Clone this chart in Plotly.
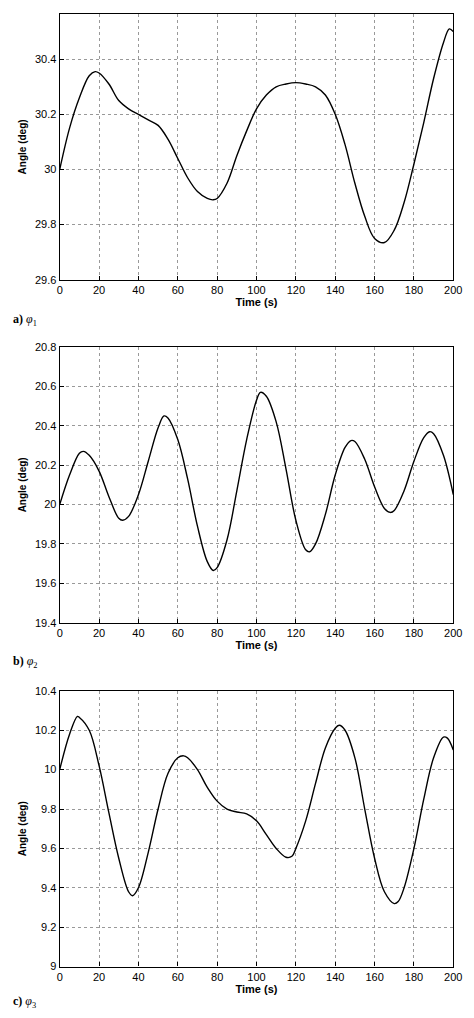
import plotly.graph_objects as go

t1 = [0,5,10,15,18,20,25,30,35,40,45,50,55,60,65,70,75,78,80,85,90,95,100,105,110,115,120,125,130,135,140,145,150,155,160,165,170,175,180,185,190,195,198,200]
phi1 = [30.0,30.15,30.26,30.34,30.355,30.35,30.31,30.25,30.22,30.2,30.18,30.16,30.11,30.04,29.97,29.92,29.895,29.89,29.895,29.95,30.05,30.14,30.22,30.27,30.3,30.31,30.315,30.31,30.3,30.27,30.2,30.09,29.95,29.83,29.75,29.735,29.78,29.88,30.02,30.17,30.33,30.46,30.51,30.5]
t2 = [0,5,10,12,15,20,25,30,32,35,40,45,50,53,55,60,65,70,75,78,80,85,90,95,100,102,105,110,115,120,125,127,130,135,140,145,148,150,155,160,165,168,170,175,180,185,188,190,195,200]
phi2 = [20.0,20.15,20.26,20.27,20.25,20.17,20.04,19.93,19.92,19.94,20.05,20.22,20.39,20.45,20.44,20.33,20.13,19.89,19.71,19.665,19.68,19.82,20.07,20.33,20.53,20.57,20.55,20.42,20.18,19.92,19.77,19.76,19.8,19.95,20.15,20.29,20.325,20.32,20.23,20.09,19.98,19.96,19.97,20.07,20.22,20.34,20.37,20.36,20.25,20.05]
t3 = [0,5,9,10,15,20,25,30,35,37,40,45,50,55,60,63,65,70,75,80,85,90,95,100,105,110,115,118,120,125,130,135,140,142,145,150,155,160,165,170,172,175,180,185,190,195,197,200]
phi3 = [10.0,10.18,10.27,10.265,10.2,10.02,9.78,9.55,9.38,9.36,9.4,9.58,9.8,9.98,10.06,10.07,10.06,10.0,9.91,9.84,9.8,9.785,9.775,9.74,9.67,9.6,9.555,9.56,9.6,9.74,9.93,10.11,10.21,10.225,10.2,10.06,9.8,9.55,9.38,9.32,9.33,9.4,9.6,9.85,10.06,10.165,10.16,10.1]

W, H = 466, 1010
panels = [
    (t1, phi1, [29.6, 30.564], [0.7337, 1.0], "a) ", "1", 310),
    (t2, phi2, [19.4, 20.8], [0.3901, 0.6663], "b) ", "2", 656),
    (t3, phi3, [9.0, 10.4], [0.0455, 0.3218], "c) ", "3", None),
]

fig = go.Figure()
font = dict(family="Liberation Sans, Arial", size=11, color="black")
for i, (t, y, rng, dom, lab, sub, capy) in enumerate(panels, start=1):
    xa = "x" if i == 1 else f"x{i}"
    ya = "y" if i == 1 else f"y{i}"
    fig.add_trace(go.Scatter(x=t, y=y, mode="lines", line=dict(color="black", width=1.4, shape="spline"),
                             xaxis=xa, yaxis=ya, showlegend=False))
    axcommon = dict(showline=True, linecolor="black", linewidth=1.2, mirror=True,
                    showgrid=True, gridcolor="#999", griddash="dot", gridwidth=1,
                    ticks="inside", ticklen=4, tickcolor="black", zeroline=False,
                    tickfont=font)
    fig.layout[f"xaxis{'' if i == 1 else i}"] = dict(axcommon, domain=[0.1073, 0.9742], range=[0, 200], dtick=20,
        anchor=ya, title=dict(text="<b>Time (s)</b>", font=font, standoff=2))
    fig.layout[f"yaxis{'' if i == 1 else i}"] = dict(axcommon, domain=dom, range=rng, dtick=0.2,
        anchor=xa, title=dict(text="<b>Angle (deg)</b>", font=dict(font, size=10), standoff=6))
    if capy is None:
        yy, ya_ = 0, "bottom"
    else:
        yy, ya_ = 1 - capy / H, "middle"
    fig.add_annotation(x=0, y=yy, xref="paper", yref="paper", xanchor="left", yanchor=ya_,
                       showarrow=False, text=f"<b>{lab}</b><i>φ</i><sub>{sub}</sub>",
                       font=dict(family="Liberation Serif, Times New Roman", size=12, color="black"))

fig.update_layout(width=W, height=H, margin=dict(l=0, r=0, t=0, b=0),
                  plot_bgcolor="white", paper_bgcolor="white")
fig.write_html("out.html")
